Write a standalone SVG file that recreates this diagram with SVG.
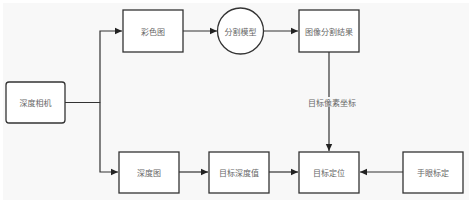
<svg xmlns="http://www.w3.org/2000/svg" width="474" height="204" viewBox="0 0 474 204">
<defs>
<marker id="arr" markerWidth="8" markerHeight="8" refX="7" refY="4" orient="auto" markerUnits="userSpaceOnUse">
<path d="M0,0.8 L7,4 L0,7.2 Z" fill="#222"/>
</marker>
<style>
.box{fill:#fff;stroke:#333;stroke-width:1.3}
.t{font-family:"Noto Sans CJK SC","Liberation Sans",sans-serif;font-size:8px;fill:#666;text-anchor:middle;dominant-baseline:central}
.e{fill:none;stroke:#333;stroke-width:1.2}
</style>
</defs>
<rect width="474" height="204" fill="#fff"/>
<rect x="3" y="3" width="466" height="197" fill="#f8f8f8"/>
<g id="edges">
<path class="e" d="M65,102.5 H100 V31 H122" marker-end="url(#arr)"/>
<path class="e" d="M100,102.5 V172 H118" marker-end="url(#arr)"/>
<path class="e" d="M183,31 H217" marker-end="url(#arr)"/>
<path class="e" d="M263,31 H298" marker-end="url(#arr)"/>
<path class="e" d="M329,52 V151" marker-end="url(#arr)"/>
<rect x="309" y="97" width="46" height="10" fill="#f8f8f8"/>
<text class="t" x="332" y="102">目标像素坐标</text>
<path class="e" d="M179,172 H208" marker-end="url(#arr)"/>
<path class="e" d="M269,172 H298" marker-end="url(#arr)"/>
<path class="e" d="M403,172 H360" marker-end="url(#arr)"/>
</g>
<g id="camera"><rect class="box" x="6" y="82" width="59" height="41" rx="3"/><text class="t" x="35.5" y="102.5">深度相机</text></g>
<g id="color"><rect class="box" x="123" y="10" width="60" height="42"/><text class="t" x="153" y="31">彩色图</text></g>
<g id="model"><circle class="box" cx="240.5" cy="31" r="23"/><text class="t" x="240.5" y="31">分割模型</text></g>
<g id="segresult"><rect class="box" x="299" y="10" width="60" height="42"/><text class="t" x="329" y="31">图像分割结果</text></g>
<g id="depth"><rect class="box" x="119" y="152" width="60" height="41"/><text class="t" x="149" y="172.5">深度图</text></g>
<g id="depthval"><rect class="box" x="209" y="152" width="60" height="41"/><text class="t" x="239" y="172.5">目标深度值</text></g>
<g id="locate"><rect class="box" x="299" y="152" width="60" height="41"/><text class="t" x="329" y="172.5">目标定位</text></g>
<g id="handeye"><rect class="box" x="403" y="152" width="60" height="41"/><text class="t" x="433" y="172.5">手眼标定</text></g>
</svg>
